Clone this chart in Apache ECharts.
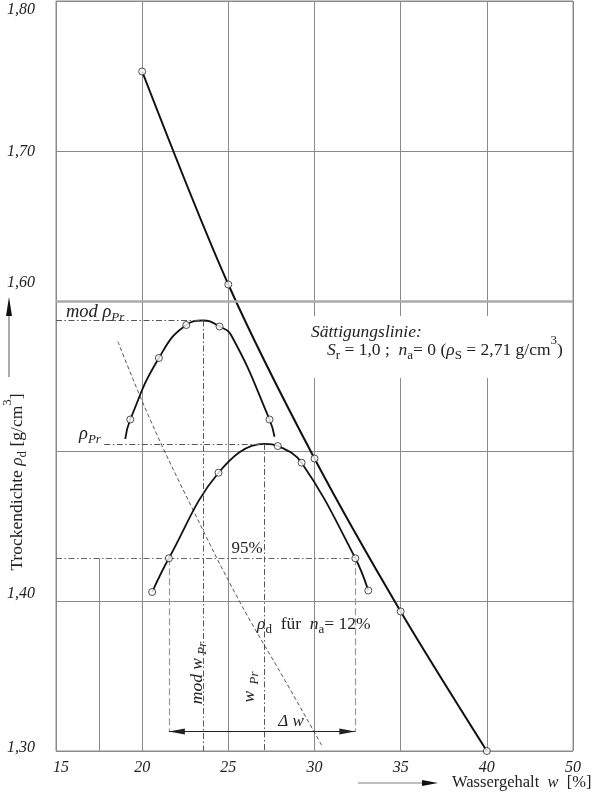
<!DOCTYPE html>
<html><head><meta charset="utf-8">
<script src="https://cdn.jsdelivr.net/npm/echarts@6/dist/echarts.min.js"></script>
<style>html,body{margin:0;padding:0;background:#fff}#c{width:595px;height:792px}</style>
</head><body><div id="c"></div>
<script>
// ---- data ----
const xTickLabels = ['15','20','25','30','35','40','50'];
const yTickLabels = ['1,30','1,40','','1,60','1,70','1,80'];
const saturationPoints = [[20,1.753],[25,1.611],[30,1.495],[35,1.393],[40,1.300]];
const modCurve = [[19.02,1.508],[19.31,1.521],[20.97,1.562],[22.56,1.584],[23.52,1.587],[24.49,1.583],[25.2,1.5765],[27.39,1.521],[27.68,1.5095]];
const modPoints = [[19.31,1.521],[20.97,1.562],[22.56,1.584],[24.49,1.583],[27.39,1.521]];
const stdCurve = [[20.58,1.406],[21.55,1.4285],[24.43,1.4855],[27.10,1.5047],[27.87,1.5033],[29.25,1.4922],[32.37,1.4285],[33.12,1.407]];
const stdPoints = [[20.58,1.406],[21.55,1.4285],[24.43,1.4855],[27.87,1.5033],[29.25,1.4922],[32.37,1.4285],[33.12,1.407]];
const airVoids12Curve = [[18.59,1.573],[20.46,1.521],[22.94,1.461],[25.59,1.401],[28.29,1.347],[30.41,1.304]];
const modOptimum = [23.52, 1.587];
const stdOptimum = [27.10, 1.5047];
const stdLineStartW = 17.8;
const density95 = 1.4285;
const w95Range = [21.55, 32.37];
const deltaWLevel = 1.313;
const extraGridW = 17.5;
const thickGridRho = 1.60;

// ---- styling ----
const F = "'Liberation Serif','Times New Roman',serif";
const C = '#222';
const GRID = '#8a8a8a';
function R(size){
  const L = 30, s = Math.round(size*0.72);
  return {
    n:{fontFamily:F,fontSize:size,color:C,lineHeight:L},
    i:{fontFamily:F,fontSize:size,fontStyle:'italic',color:C,lineHeight:L},
    sb:{fontFamily:F,fontSize:s,color:C,lineHeight:8,height:L-12,verticalAlign:'bottom'},
    isb:{fontFamily:F,fontSize:s,fontStyle:'italic',color:C,lineHeight:8,height:L-12,verticalAlign:'bottom'},
    sp:{fontFamily:F,fontSize:s,color:C,lineHeight:8,height:L-18,verticalAlign:'top'}
  };
}
function txt(x,y,text,size,align,rot){
  return {type:'text',x:x,y:y,rotation:rot||0,z:10,silent:true,
    style:{text:text,rich:R(size),align:align||'left',verticalAlign:'middle',fontFamily:F,fontSize:size,fill:C}};
}
// vertical shifts of the y tick labels (px, negative = up), as in the reference layout
const yLabelShift = [-3,-7,0,-18,1,9];
const yRich = {};
yLabelShift.forEach((s,k)=>{ yRich['y'+k] = {fontFamily:F,fontSize:16,fontStyle:'italic',color:C,
  padding: s<0 ? [0,0,-2*s,0] : [2*s,0,0,0]}; });
const xRich = {
  x0:{fontFamily:F,fontSize:16,fontStyle:'italic',color:C,padding:[0,0,0,10]},
  xn:{fontFamily:F,fontSize:16,fontStyle:'italic',color:C}
};

const dashDot = [6,2.5,1.5,2.5];
function seg(a,b,style,extra){
  return [Object.assign({coord:a,lineStyle:style},extra||{}),Object.assign({coord:b},extra||{})];
}
const cLine = {color:'#555',width:1,type:dashDot};
const markLines = [
  seg([15,modOptimum[1]],modOptimum,cLine),
  seg(modOptimum,[modOptimum[0],1.30],cLine),
  seg([stdLineStartW,stdOptimum[1]],stdOptimum,cLine),
  seg(stdOptimum,[stdOptimum[0],1.30],cLine),
  seg([15,density95],[w95Range[1],density95],{color:'#666',width:1,type:dashDot}),
  seg([w95Range[0],density95],[w95Range[0],deltaWLevel],{color:'#999',width:1.2,type:[7,3]}),
  seg([w95Range[1],density95],[w95Range[1],deltaWLevel],{color:'#999',width:1.2,type:[7,3]}),
  seg([extraGridW,density95],[extraGridW,1.30],{color:GRID,width:1,type:'solid'}),
  seg([15,thickGridRho],[45,thickGridRho],{color:'#ababab',width:2.5,type:'solid'}),
  seg([w95Range[0],deltaWLevel],[w95Range[1],deltaWLevel],{color:'#222',width:1,type:'solid'},
      {symbol:'triangle',symbolSize:[6,16],symbolOffset:[0,8]})
];

const chart = echarts.init(document.getElementById('c'),null,{renderer:'canvas'});
chart.setOption({
  animation:false,
  backgroundColor:'#fff',
  grid:{left:56,right:22,top:1,bottom:41,show:true,borderColor:GRID,borderWidth:1,containLabel:false,outerBoundsMode:'none'},
  xAxis:{type:'value',min:15,max:45,interval:5,
    axisLine:{show:false},axisTick:{show:false},
    splitLine:{show:true,lineStyle:{color:GRID,width:1}},
    axisLabel:{margin:9,rich:xRich,
      formatter:v=>{const k=Math.round((v-15)/5); return '{'+(k===0?'x0':'xn')+'|'+xTickLabels[k]+'}';}}},
  yAxis:{type:'value',min:1.3,max:1.8,interval:0.1,
    axisLine:{show:false},axisTick:{show:false},
    splitLine:{show:true,lineStyle:{color:GRID,width:1}},
    axisLabel:{margin:21,rich:yRich,
      formatter:v=>{const k=Math.round((v-1.3)/0.1); return yTickLabels[k] ? '{y'+k+'|'+yTickLabels[k]+'}' : '';}}},
  series:[
    {type:'line',data:[],silent:true,z:1,
      markLine:{silent:true,symbol:['none','none'],label:{show:false},emphasis:{disabled:true},animation:false,data:markLines}},
    {type:'line',data:airVoids12Curve,smooth:0.4,showSymbol:false,symbol:'none',silent:true,z:2,
      lineStyle:{color:'#444',width:0.9,type:[4,2.5]}},
    {type:'line',data:saturationPoints,smooth:0.3,showSymbol:false,symbol:'none',silent:true,z:3,
      lineStyle:{color:'#111',width:2}},
    {type:'line',data:modCurve,smooth:0.5,showSymbol:false,symbol:'none',silent:true,z:3,
      lineStyle:{color:'#111',width:1.8}},
    {type:'line',data:stdCurve,smooth:0.4,showSymbol:false,symbol:'none',silent:true,z:3,
      lineStyle:{color:'#111',width:1.8}},
    {type:'scatter',data:saturationPoints.concat(modPoints,stdPoints),symbol:'circle',symbolSize:7,silent:true,z:5,
      itemStyle:{color:'#fff',borderColor:'#222',borderWidth:1}}
  ],
  graphic:[
    {type:'rect',z:1,silent:true,shape:{x:306,y:316,width:264,height:62},style:{fill:'#fff'}},
    txt(66,312,'{i|mod ρ}{isb|Pr}',18.5),
    txt(79,434,'{i|ρ}{isb|Pr}',18.5),
    txt(311,332,'{i|Sättigungslinie:}',17.5),
    txt(327,350,'{i|S}{sb|r}{n| = 1,0 ;  }{i|n}{sb|a}{n|= 0 (}{i|ρ}{sb|S}{n| = 2,71 g/cm}{sp|3}{n|)}',17.5),
    txt(247,549,'{n|95%}',17,'center'),
    txt(257,624,'{i|ρ}{sb|d}{n|  für  }{i|n}{sb|a}{n|= 12%}',17.5),
    txt(197,673,'{i|mod w}{isb| Pr}',17.5,'center',Math.PI/2),
    txt(249,687,'{i|w}{isb|  Pr}',17.5,'center',Math.PI/2),
    txt(291,722,'{i|Δ w}',17,'center'),
    txt(452,783,'{n|Wassergehalt  }{i|w}{n|  [%]}',16.5),
    txt(17,482,'{n|Trockendichte }{i|ρ}{sb|d}{n| [g/cm}{sp|3}{n|]}',17.5,'center',Math.PI/2),
    {type:'line',z:10,silent:true,shape:{x1:358,y1:783,x2:426,y2:783},style:{stroke:'#aaa',lineWidth:1.6}},
    {type:'polygon',z:10,silent:true,shape:{points:[[438,783],[422,780],[422,786]]},style:{fill:'#111'}},
    {type:'line',z:10,silent:true,shape:{x1:9,y1:377,x2:9,y2:312},style:{stroke:'#555',lineWidth:1}},
    {type:'polygon',z:10,silent:true,shape:{points:[[9,297],[6,316],[12,316]]},style:{fill:'#111'}}
  ]
});
</script></body></html>
